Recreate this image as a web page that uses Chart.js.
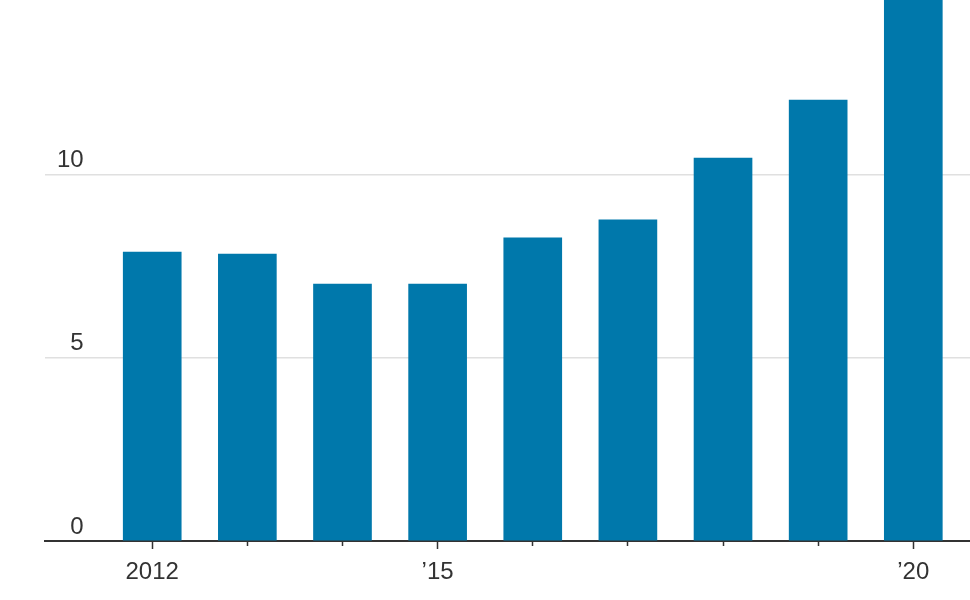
<!DOCTYPE html>
<html lang="en">
<head>
    <meta charset="UTF-8">
    <title>Annual values 2012–2020</title>
    <script src="https://cdn.jsdelivr.net/npm/chart.js"></script>
    <style>
        body { margin: 0; background: #fff; }
        #wrap { width: 970px; height: 600px; position: relative; }
    </style>
</head>
<body>
    <div id="wrap">
        <canvas id="barChart"></canvas>
    </div>

    <script>
        // Data
        const years = [2012, 2013, 2014, 2015, 2016, 2017, 2018, 2019, 2020];
        const values = [7.88, 7.83, 7.01, 7.01, 8.27, 8.76, 10.45, 12.03, 15.2];
        const yearLabels = ['2012', '', '', '\u201915', '', '', '', '', '\u201920'];
        const yTicks = [0, 5, 10];

        const FONT = '"Liberation Sans", Arial, sans-serif';
        const TEXT = '#333333';

        const ctx = document.getElementById('barChart').getContext('2d');
        new Chart(ctx, {
            type: 'bar',
            data: {
                datasets: [{
                    data: years.map((y, i) => ({ x: y, y: values[i] })),
                    backgroundColor: '#0078ab',
                    barThickness: 58
                }]
            },
            options: {
                responsive: true,
                maintainAspectRatio: false,
                animation: false,
                layout: { padding: 0 },
                plugins: { legend: { display: false }, tooltip: { enabled: false } },
                scales: {
                    x: {
                        type: 'linear',
                        offset: false,
                        min: 2010.873,
                        max: 2020.596,
                        afterBuildTicks: scale => { scale.ticks = years.map(v => ({ value: v })); },
                        afterFit: scale => {
                            scale.height = 59;
                            scale.paddingLeft = 0;
                            scale.paddingRight = 0;
                        },
                        border: { display: true, color: TEXT, width: 2 },
                        grid: {
                            offset: false,
                            drawOnChartArea: false,
                            drawTicks: true,
                            tickLength: 8,
                            tickColor: TEXT,
                            tickWidth: 1.5,
                            // unlabelled years get a shorter tick
                            tickBorderDash: c => yearLabels[c.index] ? [] : [4, 100]
                        },
                        ticks: {
                            autoSkip: false,
                            maxRotation: 0,
                            padding: 9,
                            color: TEXT,
                            font: { family: FONT, size: 24 },
                            callback: (v, i) => yearLabels[i]
                        }
                    },
                    y: {
                        min: 0,
                        max: 14.76,
                        afterBuildTicks: scale => { scale.ticks = yTicks.map(v => ({ value: v })); },
                        afterFit: scale => {
                            scale.width = 45;
                            scale.paddingTop = 0;
                            scale.paddingBottom = 0;
                        },
                        border: { display: false },
                        grid: {
                            drawTicks: false,
                            lineWidth: 1.5,
                            color: c => c.tick && c.tick.value === 0 ? 'rgba(0,0,0,0)' : '#e0e0e0'
                        },
                        ticks: {
                            mirror: true,
                            crossAlign: 'far',
                            padding: 12,
                            labelOffset: -14,
                            color: TEXT,
                            font: { family: FONT, size: 24 },
                            callback: v => String(v)
                        }
                    }
                }
            }
        });
    </script>
</body>
</html>
